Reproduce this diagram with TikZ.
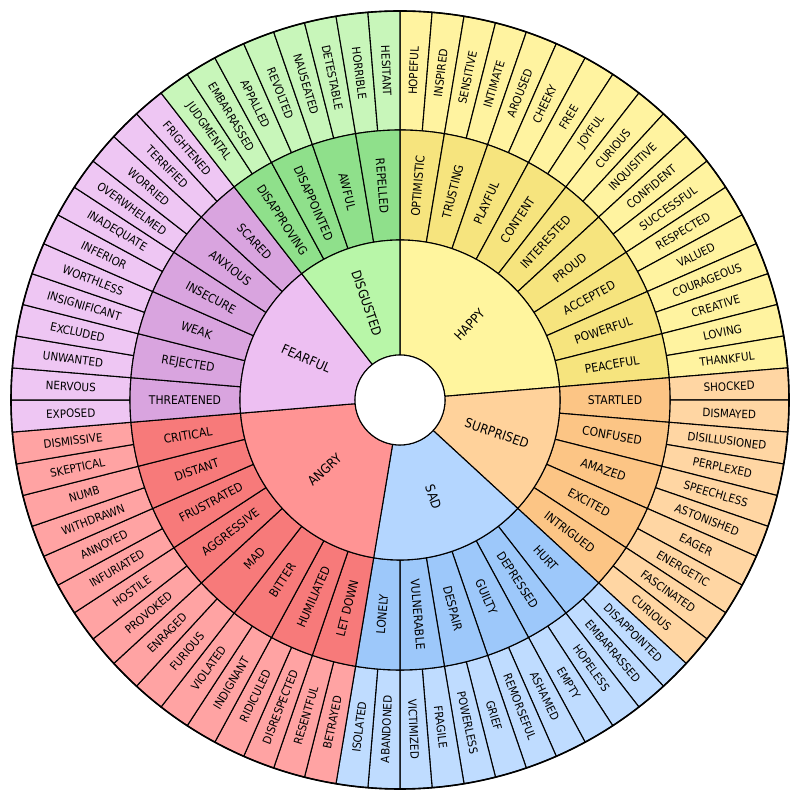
\documentclass[tikz,border=0pt]{standalone}
\usepackage{fontspec}
\setmainfont{DejaVu Sans Condensed}
\begin{document}
\begin{tikzpicture}[x=1pt,y=1pt,lbl/.style={inner sep=0pt,font=\fontsize{#1}{#1}\selectfont}]
\useasboundingbox (0,0) rectangle (800,800);
\fill[white] (0,0) rectangle (800,800);
\def\st{4.7368421}
\newcommand\sect[7]{%
  \pgfmathsetmacro\mm{(#3+#4)/2}%
  \pgfmathsetmacro\rot{cos(\mm)>=0 ? \mm : \mm+180}%
  \fill[#5,draw=black,line width=1.1pt] ($(400,400)+(#3:#1)$) arc[start angle=#3,end angle=#4,radius=#1] -- ($(400,400)+(#4:#2)$) arc[start angle=#4,end angle=#3,radius=#2] -- cycle;
  \node[lbl=#7,rotate=\rot] at ($(400,400)+(\mm:{(#1+#2)/2})$) {#6};}
\newcommand\ring[7]{%
  \foreach \w [count=\i from 0] in {#6} {%
    \pgfmathsetmacro\aa{90-(#3+\i*#4)*\st}%
    \pgfmathsetmacro\bb{\aa-#4*\st}%
    \sect{#1}{#2}{\aa}{\bb}{#5}{\w}{#7}}}
\usetikzlibrary{calc}
\definecolor{yo}{HTML}{FFF3A0}\definecolor{ym}{HTML}{F6E47E}\definecolor{yc}{HTML}{FFF59E}
\definecolor{oo}{HTML}{FFD6A3}\definecolor{om}{HTML}{FCC585}\definecolor{oc}{HTML}{FFD29B}
\definecolor{bo}{HTML}{BFDCFF}\definecolor{bm}{HTML}{9DC8FA}\definecolor{bc}{HTML}{B4D6FF}
\definecolor{ro}{HTML}{FFA3A3}\definecolor{rm}{HTML}{F77A7A}\definecolor{rc}{HTML}{FF9494}
\definecolor{po}{HTML}{EEC6F3}\definecolor{pm}{HTML}{D9A4DF}\definecolor{pc}{HTML}{EDBFF2}
\definecolor{go}{HTML}{C8F6BA}\definecolor{gm}{HTML}{8FE08B}\definecolor{gc}{HTML}{B8F6A8}
% outer
\ring{270}{389}{0}{1}{yo}{HOPEFUL,INSPIRED,SENSITIVE,INTIMATE,AROUSED,CHEEKY,FREE,JOYFUL,CURIOUS,INQUISITIVE,CONFIDENT,SUCCESSFUL,RESPECTED,VALUED,COURAGEOUS,CREATIVE,LOVING,THANKFUL}{11.5}
\ring{270}{389}{18}{1}{oo}{SHOCKED,DISMAYED,DISILLUSIONED,PERPLEXED,SPEECHLESS,ASTONISHED,EAGER,ENERGETIC,FASCINATED,CURIOUS}{11.5}
\ring{270}{389}{28}{1}{bo}{DISAPPOINTED,EMBARRASSED,HOPELESS,EMPTY,ASHAMED,REMORSEFUL,GRIEF,POWERLESS,FRAGILE,VICTIMIZED,ABANDONED,ISOLATED}{11.5}
\ring{270}{389}{40}{1}{ro}{BETRAYED,RESENTFUL,DISRESPECTED,RIDICULED,INDIGNANT,VIOLATED,FURIOUS,ENRAGED,PROVOKED,HOSTILE,INFURIATED,ANNOYED,WITHDRAWN,NUMB,SKEPTICAL,DISMISSIVE}{11.5}
\ring{270}{389}{56}{1}{po}{EXPOSED,NERVOUS,UNWANTED,EXCLUDED,INSIGNIFICANT,WORTHLESS,INFERIOR,INADEQUATE,OVERWHELMED,WORRIED,TERRIFIED,FRIGHTENED}{11.5}
\ring{270}{389}{68}{1}{go}{JUDGMENTAL,EMBARRASSED,APPALLED,REVOLTED,NAUSEATED,DETESTABLE,HORRIBLE,HESITANT}{11.5}
% middle
\ring{160}{270}{0}{2}{ym}{OPTIMISTIC,TRUSTING,PLAYFUL,CONTENT,INTERESTED,PROUD,ACCEPTED,POWERFUL,PEACEFUL}{12}
\ring{160}{270}{18}{2}{om}{STARTLED,CONFUSED,AMAZED,EXCITED,INTRIGUED}{12}
\ring{160}{270}{28}{2}{bm}{HURT,DEPRESSED,GUILTY,DESPAIR,VULNERABLE,LONELY}{12}
\ring{160}{270}{40}{2}{rm}{LET DOWN,HUMILIATED,BITTER,MAD,AGGRESSIVE,FRUSTRATED,DISTANT,CRITICAL}{12}
\ring{160}{270}{56}{2}{pm}{THREATENED,REJECTED,WEAK,INSECURE,ANXIOUS,SCARED}{12}
\ring{160}{270}{68}{2}{gm}{DISAPPROVING,DISAPPOINTED,AWFUL,REPELLED}{12}
% core
\ring{45}{160}{0}{18}{yc}{HAPPY}{13}
\ring{45}{160}{18}{10}{oc}{SURPRISED}{13}
\ring{45}{160}{28}{12}{bc}{SAD}{13}
\ring{45}{160}{40}{16}{rc}{ANGRY}{13}
\ring{45}{160}{56}{12}{pc}{FEARFUL}{13}
\ring{45}{160}{68}{8}{gc}{DISGUSTED}{13}
\node[circle,draw=black,line width=1.1pt,fill=white,minimum size=90pt,inner sep=0pt] (hole) at (400,400) {};
\node[circle,draw=black,line width=1.6pt,minimum size=778pt,inner sep=0pt] (rim) at (400,400) {};
\end{tikzpicture}
\end{document}
